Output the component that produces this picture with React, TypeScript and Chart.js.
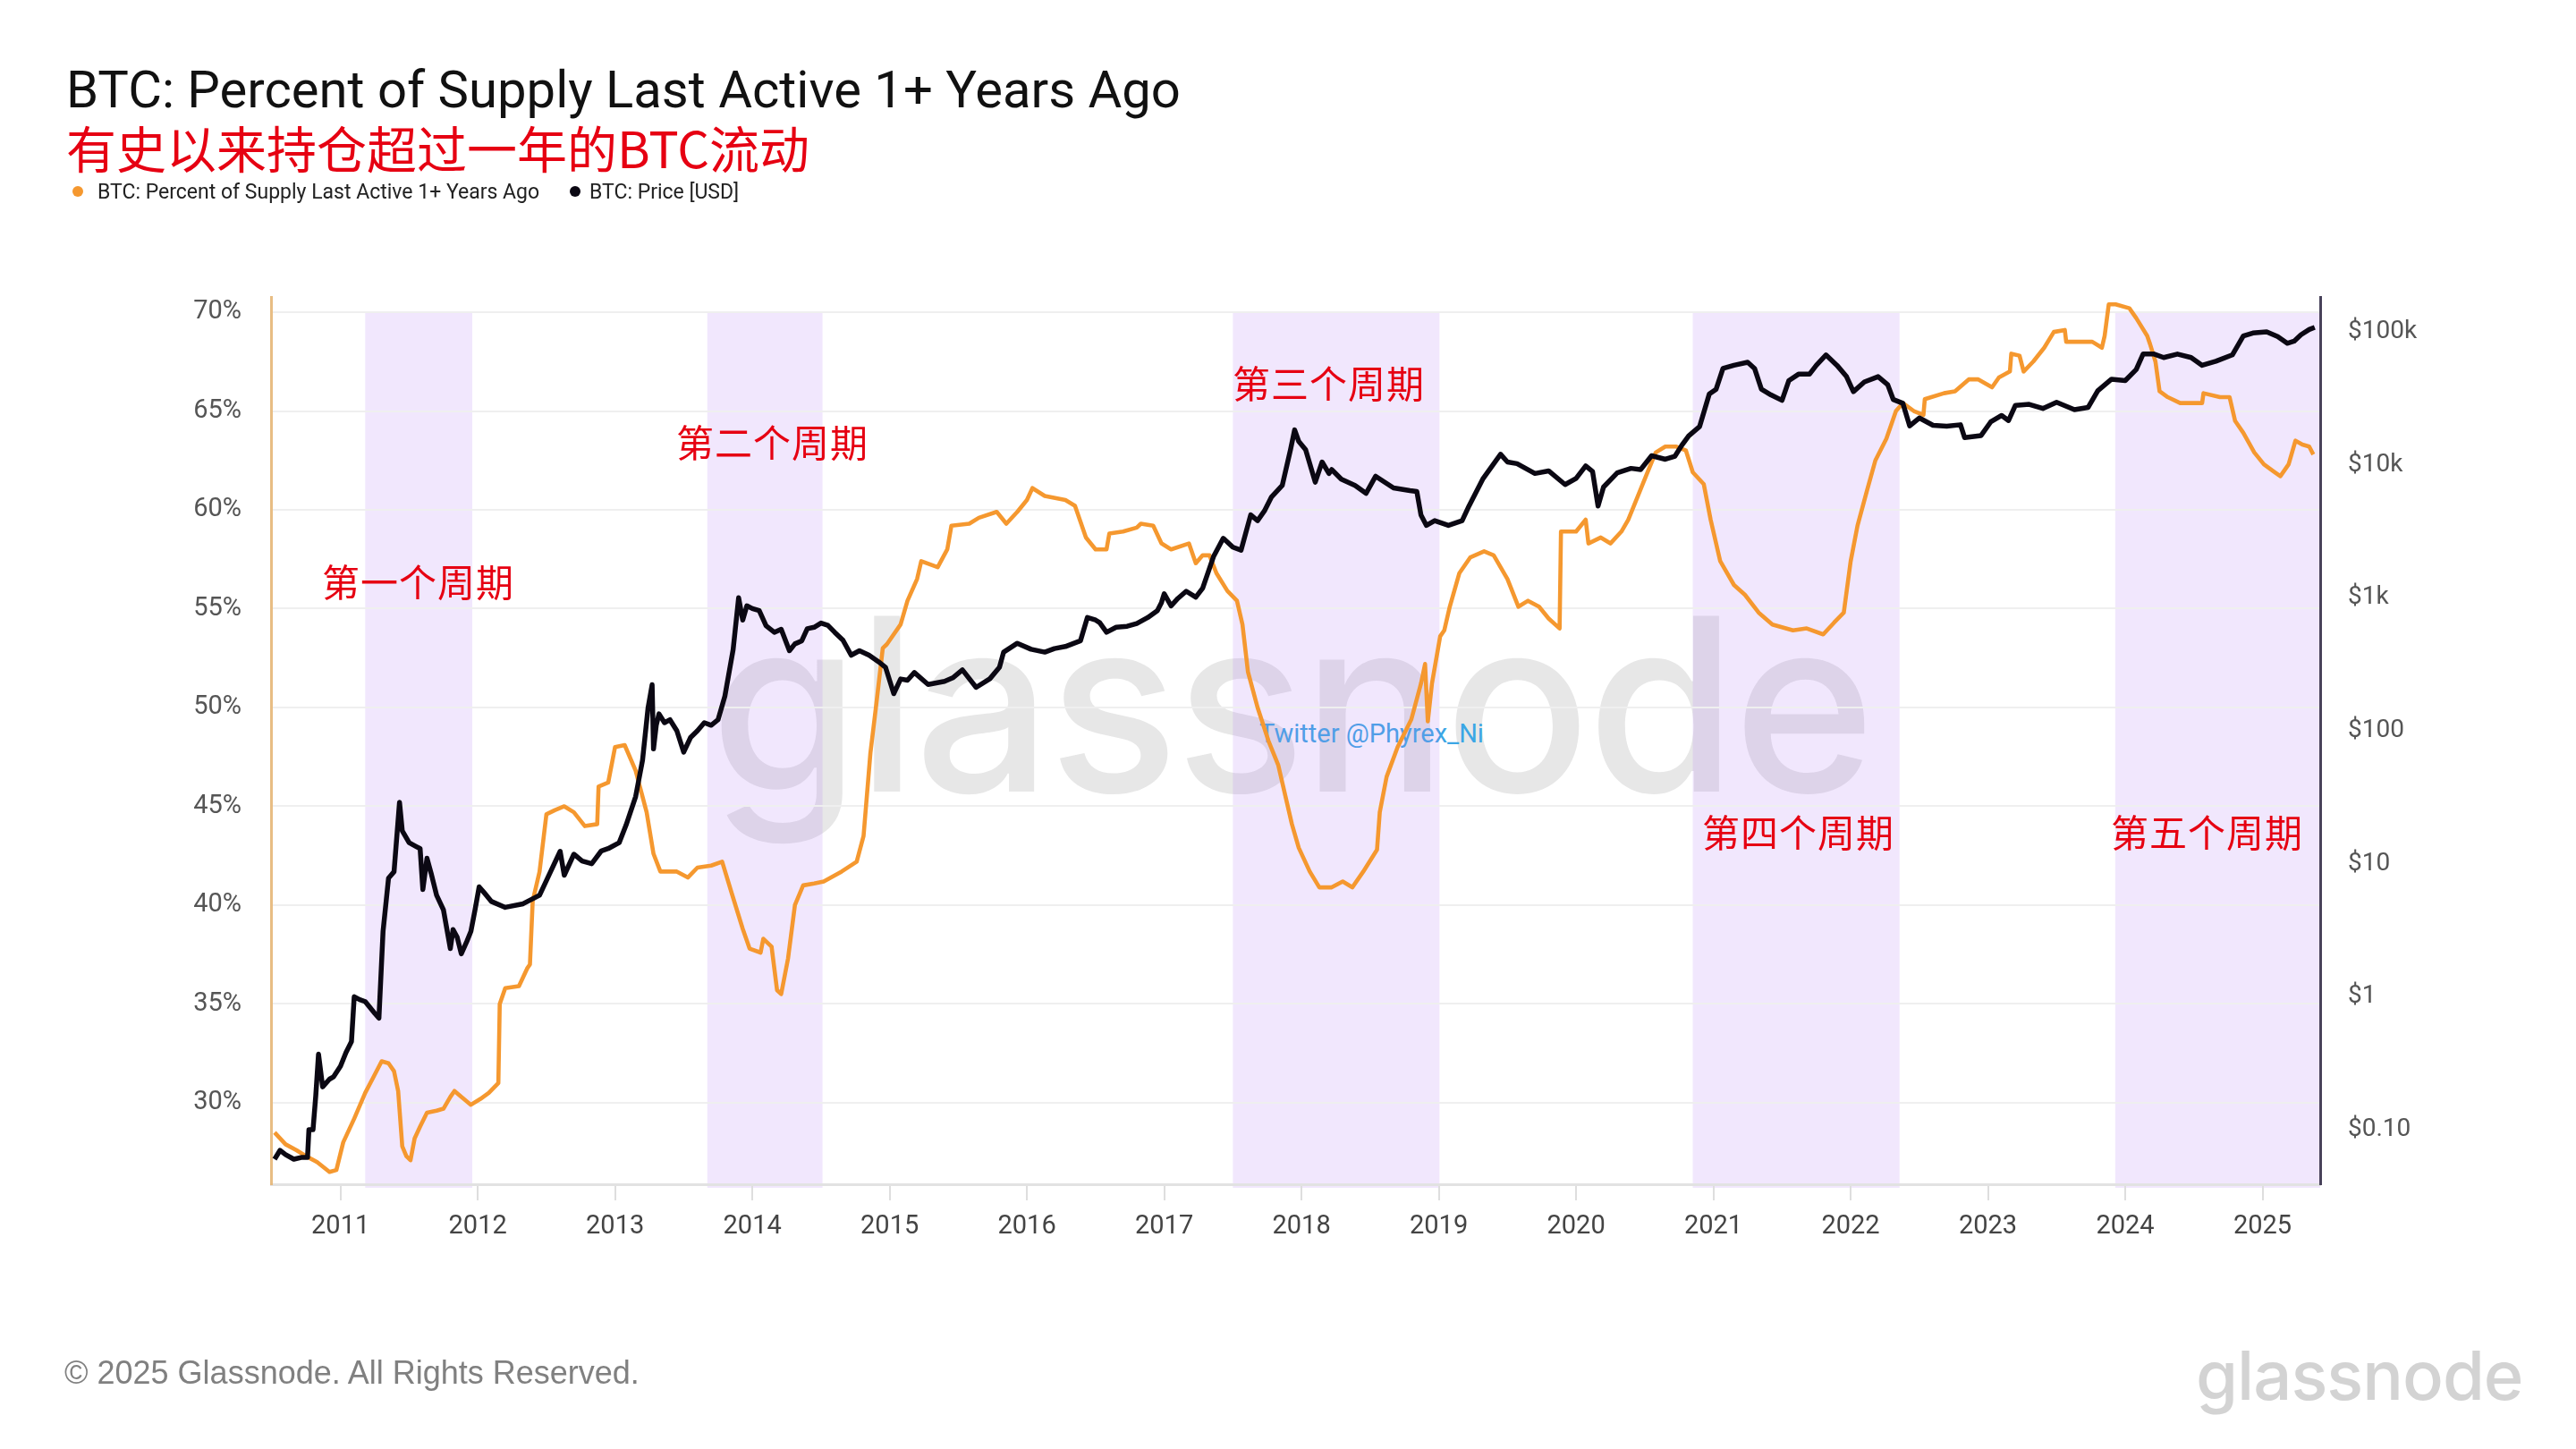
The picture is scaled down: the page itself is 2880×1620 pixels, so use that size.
import React, { useEffect, useRef } from "react";
import { Chart, registerables } from "chart.js";

Chart.register(...registerables);

// ---- data ----
const supplyYears = [
  2010.52, 2010.6, 2010.68, 2010.75, 2010.83, 2010.92, 2010.97, 2011.02, 2011.1, 2011.18,
  2011.24, 2011.3, 2011.35, 2011.39, 2011.42, 2011.45, 2011.48, 2011.51, 2011.54, 2011.58,
  2011.63, 2011.7, 2011.75, 2011.8, 2011.83, 2011.88, 2011.95, 2012.02, 2012.08, 2012.15,
  2012.16, 2012.2, 2012.3, 2012.36, 2012.38, 2012.4, 2012.45, 2012.5, 2012.56, 2012.63,
  2012.7, 2012.78, 2012.87, 2012.88, 2012.95, 2013.0, 2013.07, 2013.15, 2013.23, 2013.28,
  2013.33, 2013.45, 2013.53, 2013.6, 2013.7, 2013.78, 2013.85, 2013.93, 2013.98, 2014.06,
  2014.08, 2014.14, 2014.18, 2014.21, 2014.26, 2014.31, 2014.37, 2014.45, 2014.52, 2014.65,
  2014.76, 2014.81, 2014.86, 2014.9, 2014.95, 2014.98, 2015.08, 2015.13, 2015.2, 2015.23,
  2015.35, 2015.42, 2015.45, 2015.58, 2015.65, 2015.78, 2015.85, 2015.93, 2016.0, 2016.04,
  2016.13, 2016.28, 2016.35, 2016.43, 2016.5, 2016.58, 2016.6, 2016.7, 2016.8, 2016.83,
  2016.92, 2016.98, 2017.05, 2017.18, 2017.23, 2017.28, 2017.33, 2017.38, 2017.46, 2017.53,
  2017.57, 2017.61, 2017.68, 2017.76, 2017.83, 2017.88, 2017.93, 2017.98, 2018.06, 2018.13,
  2018.22, 2018.3, 2018.37, 2018.45, 2018.55, 2018.57, 2018.62, 2018.7, 2018.8, 2018.87,
  2018.9, 2018.92, 2018.95, 2019.01, 2019.04, 2019.08, 2019.15, 2019.23, 2019.33, 2019.4,
  2019.45, 2019.5, 2019.58, 2019.65, 2019.73, 2019.8, 2019.88, 2019.89, 2020.0, 2020.07,
  2020.09, 2020.18, 2020.25, 2020.33, 2020.38, 2020.45, 2020.52, 2020.58, 2020.65, 2020.73,
  2020.8, 2020.85, 2020.93, 2020.98, 2021.05, 2021.15, 2021.23, 2021.33, 2021.43, 2021.58,
  2021.68, 2021.8, 2021.88, 2021.95, 2022.0, 2022.05, 2022.12, 2022.18, 2022.26, 2022.33,
  2022.38, 2022.46, 2022.53, 2022.54, 2022.68, 2022.76, 2022.86, 2022.93, 2023.03, 2023.08,
  2023.16, 2023.17, 2023.23, 2023.26, 2023.33, 2023.41, 2023.48, 2023.56, 2023.57, 2023.68,
  2023.76, 2023.83, 2023.85, 2023.88, 2023.93, 2024.03, 2024.08, 2024.16, 2024.18, 2024.22,
  2024.25, 2024.31, 2024.4, 2024.56, 2024.57, 2024.69, 2024.76, 2024.8, 2024.86, 2024.94,
  2025.01, 2025.09, 2025.13, 2025.19, 2025.24, 2025.29, 2025.34, 2025.37,
];
const supplyPct = [
  28.5, 27.9, 27.6, 27.3, 27.0, 26.5, 26.6, 28.0, 29.2, 30.5,
  31.3, 32.1, 32.0, 31.6, 30.6, 27.8, 27.3, 27.1, 28.2, 28.8,
  29.5, 29.6, 29.7, 30.3, 30.6, 30.3, 29.9, 30.2, 30.5, 31.0,
  35.0, 35.8, 35.9, 36.8, 37.0, 40.2, 41.7, 44.6, 44.8, 45.0,
  44.7, 44.0, 44.1, 46.0, 46.2, 48.0, 48.1, 46.8, 44.7, 42.6,
  41.7, 41.7, 41.4, 41.9, 42.0, 42.2, 40.6, 38.8, 37.8, 37.6,
  38.3, 37.9, 35.7, 35.5, 37.3, 40.0, 41.0, 41.1, 41.2, 41.7,
  42.2, 43.5, 47.7, 50.0, 53.0, 53.2, 54.2, 55.4, 56.5, 57.4,
  57.1, 58.0, 59.2, 59.3, 59.6, 59.9, 59.3, 59.9, 60.5, 61.1,
  60.7, 60.5, 60.2, 58.6, 58.0, 58.0, 58.8, 58.9, 59.1, 59.3,
  59.2, 58.3, 58.0, 58.3, 57.3, 57.7, 57.7, 56.8, 55.9, 55.4,
  54.2, 51.8, 50.0, 48.3, 47.1, 45.6, 44.1, 42.9, 41.7, 40.9,
  40.9, 41.2, 40.9, 41.7, 42.8, 44.7, 46.5, 48.0, 49.4, 51.2,
  52.2, 49.3, 51.2, 53.6, 53.9, 55.1, 56.8, 57.6, 57.9, 57.7,
  57.1, 56.5, 55.1, 55.4, 55.1, 54.5, 54.0, 58.9, 58.9, 59.5,
  58.3, 58.6, 58.3, 58.9, 59.5, 60.7, 61.9, 62.9, 63.2, 63.2,
  63.0, 61.9, 61.3, 59.5, 57.4, 56.2, 55.7, 54.8, 54.2, 53.9,
  54.0, 53.7, 54.3, 54.8, 57.4, 59.2, 61.0, 62.5, 63.6, 65.0,
  65.4, 65.0, 64.8, 65.6, 65.9, 66.0, 66.6, 66.6, 66.2, 66.7,
  67.0, 67.9, 67.8, 67.0, 67.5, 68.2, 69.0, 69.1, 68.5, 68.5,
  68.5, 68.2, 68.8, 70.4, 70.4, 70.2, 69.7, 68.8, 68.4, 67.5,
  66.0, 65.7, 65.4, 65.4, 65.9, 65.7, 65.7, 64.5, 63.9, 62.9,
  62.3, 61.9, 61.7, 62.3, 63.5, 63.3, 63.2, 62.8,
];

const priceYears = [
  2010.52, 2010.56, 2010.6, 2010.66, 2010.72, 2010.76, 2010.77, 2010.8, 2010.82, 2010.84,
  2010.87, 2010.92, 2010.95, 2011.0, 2011.04, 2011.08, 2011.1, 2011.14, 2011.18, 2011.25,
  2011.28, 2011.31, 2011.35, 2011.39, 2011.43, 2011.45, 2011.5, 2011.55, 2011.58, 2011.6,
  2011.63, 2011.66, 2011.7, 2011.75, 2011.8, 2011.82, 2011.85, 2011.88, 2011.92, 2011.95,
  2011.98, 2012.01, 2012.05, 2012.1, 2012.2, 2012.33, 2012.45, 2012.53, 2012.6, 2012.63,
  2012.7, 2012.76, 2012.83, 2012.9, 2012.95, 2013.03, 2013.08, 2013.15, 2013.2, 2013.24,
  2013.27, 2013.28, 2013.3, 2013.32, 2013.36, 2013.4, 2013.45, 2013.5, 2013.55, 2013.6,
  2013.65, 2013.7, 2013.75, 2013.8, 2013.86, 2013.9, 2013.93, 2013.96, 2014.0, 2014.05,
  2014.1, 2014.16, 2014.21, 2014.27, 2014.31, 2014.36, 2014.4, 2014.45, 2014.5, 2014.55,
  2014.6, 2014.66, 2014.72, 2014.78, 2014.85, 2014.92, 2014.97, 2015.03, 2015.08, 2015.13,
  2015.18, 2015.28, 2015.4, 2015.46, 2015.53, 2015.63, 2015.73, 2015.8, 2015.83, 2015.93,
  2016.03, 2016.13, 2016.2, 2016.28, 2016.39, 2016.44, 2016.5, 2016.53, 2016.58, 2016.65,
  2016.73, 2016.8, 2016.88, 2016.95, 2016.98, 2017.0, 2017.05, 2017.1, 2017.16, 2017.23,
  2017.28, 2017.36, 2017.43, 2017.5, 2017.56, 2017.63, 2017.68, 2017.73, 2017.78, 2017.86,
  2017.92, 2017.95, 2017.98, 2018.03, 2018.1, 2018.15, 2018.2, 2018.22, 2018.29, 2018.39,
  2018.47, 2018.54, 2018.67, 2018.79, 2018.84, 2018.87, 2018.91, 2018.97, 2019.07, 2019.17,
  2019.22, 2019.32, 2019.41, 2019.45, 2019.5, 2019.57, 2019.7, 2019.8, 2019.92, 2020.0,
  2020.07, 2020.12, 2020.16, 2020.2, 2020.3, 2020.4, 2020.47, 2020.55, 2020.65, 2020.72,
  2020.77, 2020.82, 2020.9, 2020.97, 2021.02, 2021.07, 2021.15, 2021.25, 2021.3, 2021.35,
  2021.42, 2021.5, 2021.55, 2021.62, 2021.7, 2021.75, 2021.82, 2021.9, 2021.97, 2022.02,
  2022.1, 2022.2, 2022.27, 2022.31, 2022.38, 2022.43, 2022.5, 2022.6, 2022.7, 2022.8,
  2022.83, 2022.95, 2023.02, 2023.1, 2023.15, 2023.2, 2023.3, 2023.4, 2023.5, 2023.63,
  2023.73, 2023.8, 2023.9, 2024.0, 2024.08, 2024.13, 2024.21, 2024.28, 2024.38, 2024.48,
  2024.56, 2024.66, 2024.78, 2024.86, 2024.93, 2025.03, 2025.11, 2025.18, 2025.23, 2025.28,
  2025.34, 2025.38,
];
const priceUsd = [
  0.06, 0.07, 0.065, 0.06, 0.062, 0.062, 0.1, 0.1, 0.18, 0.37,
  0.21, 0.24, 0.25, 0.3, 0.38, 0.46, 1.0, 0.95, 0.92, 0.75,
  0.69, 3.1, 7.8, 8.7, 29, 17.7, 14.4, 13.5, 13, 6.4,
  11, 8.5, 5.8, 4.5, 2.3, 3.2, 2.8, 2.1, 2.6, 3.1,
  4.5, 6.7, 6.0, 5.2, 4.7, 5.0, 5.8, 8.7, 12.4, 8.2,
  11.8, 10.5, 10, 12.5, 13, 14.4, 19.5, 32, 60, 148,
  222, 73, 110, 134, 115, 121, 100, 69, 89, 100,
  115, 110, 121, 182, 408, 1000, 680, 870, 830, 800,
  615, 550, 580, 400, 450, 475, 585, 600, 645, 620,
  550, 480, 370, 400, 370, 330, 300, 190, 245, 240,
  274, 223, 235, 250, 287, 212, 246, 300, 390, 455,
  410, 390, 415, 430, 475, 710, 680, 650, 550, 600,
  610, 640, 710, 800, 920, 1070, 870, 990, 1120, 1010,
  1180, 2050, 2800, 2400, 2280, 4200, 3800, 4500, 5700, 7000,
  13000, 18300, 15000, 13000, 7400, 10500, 8600, 9200, 7800, 7000,
  6100, 8200, 6700, 6400, 6300, 4200, 3500, 3800, 3500, 3800,
  4900, 7800, 10500, 12000, 10500, 10200, 8600, 9000, 7100, 7900,
  9800, 8900, 4900, 6800, 8700, 9400, 9200, 11700, 11000, 11600,
  14000, 16500, 19400, 34000, 37000, 53000, 56000, 59000, 53000, 37000,
  33500, 30500, 43000, 48000, 48000, 56000, 67000, 56000, 46000, 35500,
  42000, 46000, 40000, 31000, 29000, 19600, 22500, 19800, 19500, 20000,
  16000, 16600, 21000, 23500, 21500, 28000, 28500, 26500, 29500, 26000,
  27000, 36000, 44000, 43000, 52000, 68000, 68000, 64000, 68000, 64000,
  56000, 60000, 67000, 93000, 98000, 100000, 92000, 82000, 85000, 95000,
  104000, 108000,
];

const cycleStarts = [2011.18, 2013.672, 2017.5, 2020.85, 2023.927];
const cycleEnds = [2011.96, 2014.511, 2019.005, 2022.356, 2025.42];
const cycleLabels = ["第一个周期", "第二个周期", "第三个周期", "第四个周期", "第五个周期"];

const yearTicks = [2011, 2012, 2013, 2014, 2015, 2016, 2017, 2018, 2019, 2020, 2021, 2022, 2023, 2024, 2025];
const pctTicks = [30, 35, 40, 45, 50, 55, 60, 65, 70];
const priceTicks = [0.1, 1, 10, 100, 1000, 10000, 100000];
const priceTickLabels = ["$0.10", "$1", "$10", "$100", "$1k", "$10k", "$100k"];

const titleText = "BTC: Percent of Supply Last Active 1+ Years Ago";
const subtitleText = "有史以来持仓超过一年的BTC流动";
const legendSupply = "BTC: Percent of Supply Last Active 1+ Years Ago";
const legendPrice = "BTC: Price [USD]";

// ---- styling ----
const ORANGE = "#f5982f";
const BLACK = "#0b0813";
const RED = "#e60012";

const cyclePos = [
  { left: 360, top: 628 },
  { left: 756, top: 472 },
  { left: 1378, top: 406 },
  { left: 1903, top: 908 },
  { left: 2360, top: 908 },
];

const bandsPlugin = {
  id: "cycleBands",
  beforeDraw(chart: any) {
    const { ctx, chartArea, scales } = chart;
    const xs = scales.x;
    const ys = scales.yPct;
    const top = ys.getPixelForValue(70);
    ctx.save();
    ctx.fillStyle = "rgba(180,120,245,0.18)";
    for (let i = 0; i < cycleStarts.length; i++) {
      const x0 = Math.max(chartArea.left, xs.getPixelForValue(cycleStarts[i]));
      const x1 = Math.min(chartArea.right, xs.getPixelForValue(cycleEnds[i]));
      ctx.fillRect(x0, top, x1 - x0, chartArea.bottom - top + 4);
    }
    ctx.restore();
  },
};

export default function App() {
  const canvasRef = useRef<HTMLCanvasElement | null>(null);

  useEffect(() => {
    document.body.style.margin = "0";
    const canvas = canvasRef.current;
    if (!canvas) return;
    const tickFont = { family: "Roboto", size: 29 };
    const chart = new Chart(canvas, {
      type: "line",
      data: {
        datasets: [
          {
            label: legendPrice,
            data: priceYears.map((x, i) => ({ x, y: priceUsd[i] })),
            yAxisID: "yPrice",
            borderColor: BLACK,
            borderWidth: 5.5,
            pointRadius: 0,
            tension: 0,
            borderJoinStyle: "round",
          },
          {
            label: legendSupply,
            data: supplyYears.map((x, i) => ({ x, y: supplyPct[i] })),
            yAxisID: "yPct",
            borderColor: ORANGE,
            borderWidth: 4.6,
            pointRadius: 0,
            tension: 0,
            borderJoinStyle: "round",
          },
        ],
      },
      options: {
        animation: false,
        responsive: false,
        devicePixelRatio: 1,
        layout: { padding: { top: 332, left: 0, right: 0, bottom: 0 } },
        plugins: { legend: { display: false }, tooltip: { enabled: false } },
        scales: {
          x: {
            type: "linear",
            min: 2010.494,
            max: 2025.42,
            afterBuildTicks: (s: any) => {
              s.ticks = yearTicks.map((v) => ({ value: v }));
            },
            afterFit: (s: any) => {
              s.height = 296;
            },
            ticks: {
              callback: (v: any) => String(v),
              font: tickFont,
              color: "#444444",
              padding: 12,
              maxRotation: 0,
              autoSkip: false,
            },
            grid: { drawOnChartArea: false, tickLength: 18, color: "#dedede", lineWidth: 2 },
            border: { color: "#e2e2e2", width: 3 },
          },
          yPct: {
            type: "linear",
            position: "left",
            min: 25.88,
            max: 70.77,
            afterBuildTicks: (s: any) => {
              s.ticks = pctTicks.map((v) => ({ value: v }));
            },
            afterFit: (s: any) => {
              s.width = 303;
            },
            ticks: {
              callback: (v: any) => v + "%",
              font: tickFont,
              color: "#555555",
              padding: 33,
            },
            grid: { color: "#efefef", lineWidth: 2, drawTicks: false },
            border: { color: "rgba(228,178,110,0.85)", width: 3 },
          },
          yPrice: {
            type: "logarithmic",
            position: "right",
            min: 0.0389,
            max: 182800,
            afterBuildTicks: (s: any) => {
              s.ticks = priceTicks.map((v) => ({ value: v }));
            },
            afterFit: (s: any) => {
              s.width = 286;
            },
            ticks: {
              callback: (v: any) => {
                const idx = priceTicks.findIndex((p) => Math.abs(p - v) / p < 1e-6);
                return idx >= 0 ? priceTickLabels[idx] : "";
              },
              font: { family: "Roboto", size: 28 },
              color: "#555555",
              padding: 31,
            },
            grid: { drawOnChartArea: false, drawTicks: false },
            border: { color: "#48425a", width: 3 },
          },
        },
      } as any,
      plugins: [bandsPlugin],
    });
    return () => chart.destroy();
  }, []);

  const abs = (s: React.CSSProperties): React.CSSProperties => ({
    position: "absolute",
    whiteSpace: "nowrap",
    margin: 0,
    ...s,
  });

  return (
    <div
      style={{
        position: "relative",
        width: 2880,
        height: 1620,
        overflow: "hidden",
        background: "#ffffff",
      }}
    >
      {/* watermark behind the chart */}
      <div
        style={abs({
          left: 794,
          top: 652,
          fontFamily: "Inter",
          fontWeight: 500,
          fontSize: 270,
          lineHeight: "270px",
          letterSpacing: "-3.5px",
          color: "#e7e7e7",
          zIndex: 0,
        })}
      >
        glassnode
      </div>
      <div
        style={abs({
          left: 1408,
          top: 806,
          fontFamily: "Roboto",
          fontSize: 29,
          lineHeight: "29px",
          color: "#3ba6e5",
          zIndex: 0,
        })}
      >
        Twitter @Phyrex_Ni
      </div>

      <canvas
        ref={canvasRef}
        width={2880}
        height={1620}
        style={{ position: "absolute", left: 0, top: 0, width: 2880, height: 1620, zIndex: 1 }}
      />

      {/* titles */}
      <div
        style={abs({
          left: 74,
          top: 71,
          fontFamily: "Roboto",
          fontSize: 58,
          lineHeight: "58px",
          color: "#111111",
          zIndex: 2,
        })}
      >
        {titleText}
      </div>
      <div
        style={abs({
          left: 74,
          top: 136,
          fontFamily: "'Noto Sans CJK SC'",
          fontSize: 56,
          lineHeight: "56px",
          color: RED,
          zIndex: 2,
        })}
      >
        {subtitleText}
      </div>

      {/* legend */}
      <div
        style={abs({
          left: 81,
          top: 208,
          width: 12,
          height: 12,
          borderRadius: "50%",
          background: ORANGE,
          zIndex: 2,
        })}
      />
      <div
        style={abs({
          left: 109,
          top: 203,
          fontFamily: "Roboto",
          fontSize: 23,
          lineHeight: "23px",
          color: "#222222",
          zIndex: 2,
        })}
      >
        {legendSupply}
      </div>
      <div
        style={abs({
          left: 637,
          top: 208,
          width: 12,
          height: 12,
          borderRadius: "50%",
          background: BLACK,
          zIndex: 2,
        })}
      />
      <div
        style={abs({
          left: 659,
          top: 203,
          fontFamily: "Roboto",
          fontSize: 23,
          lineHeight: "23px",
          color: "#222222",
          zIndex: 2,
        })}
      >
        {legendPrice}
      </div>

      {/* cycle annotations */}
      {cycleLabels.map((t, i) => (
        <div
          key={t}
          style={abs({
            left: cyclePos[i].left,
            top: cyclePos[i].top,
            fontFamily: "'Noto Sans CJK SC'",
            fontSize: 42,
            lineHeight: "42px",
            letterSpacing: "1px",
            color: RED,
            zIndex: 2,
          })}
        >
          {t}
        </div>
      ))}

      {/* footer */}
      <div
        style={abs({
          left: 72,
          top: 1517,
          fontFamily: "'Liberation Sans'",
          fontSize: 36,
          lineHeight: "36px",
          color: "#808080",
          zIndex: 2,
        })}
      >
        © 2025 Glassnode. All Rights Reserved.
      </div>
      <div
        style={abs({
          left: 2455,
          top: 1499,
          fontFamily: "Inter",
          fontWeight: 500,
          fontSize: 76,
          lineHeight: "76px",
          letterSpacing: "-1px",
          color: "#d3d3d3",
          zIndex: 2,
        })}
      >
        glassnode
      </div>
    </div>
  );
}
